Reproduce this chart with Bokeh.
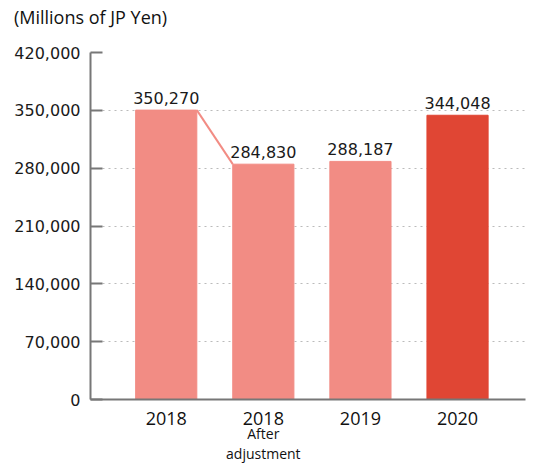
from bokeh.plotting import figure
from bokeh.models import ColumnDataSource, FixedTicker, LinearAxis, NumeralTickFormatter
from bokeh.embed import file_html
from bokeh.resources import INLINE

# data
labels = ["2018", "2018", "2019", "2020"]
sublabels = ["", "After\nadjustment", "", ""]
values = [350270, 284830, 288187, 344048]
value_text = ["350,270", "284,830", "288,187", "344,048"]
colors = ["#F28C84", "#F28C84", "#F28C84", "#E04634"]
y_ticks = [0, 70000, 140000, 210000, 280000, 350000, 420000]
unit_caption = "(Millions of JP Yen)"

xs = list(range(len(values)))
bar_w = 0.63
x_lo, x_hi = -0.78, 3.70

source = ColumnDataSource(data=dict(x=xs, top=values, color=colors, txt=value_text))

p = figure(width=538, height=466, x_range=(x_lo, x_hi), y_range=(0, 420000),
           output_backend="svg", toolbar_location=None,
           min_border_left=90, min_border_right=13, min_border_top=52, min_border_bottom=66)
p.outline_line_color = None
p.background_fill_color = "white"

p.vbar(x="x", top="top", width=bar_w, color="color", source=source)

# connector from 2018 to 2018 after adjustment
p.segment(x0=[xs[0] + bar_w / 2], y0=[values[0]], x1=[xs[1] - bar_w / 2], y1=[values[1]],
          line_color="#F28C84", line_width=2)

p.text(x="x", y="top", text="txt", source=source, text_align="center", text_baseline="bottom",
       y_offset=-6, text_font={"value": "DejaVu Sans"}, text_font_size="16px", text_color="#1a1a1a")

# y axis
p.yaxis.ticker = FixedTicker(ticks=y_ticks)
p.yaxis.formatter = NumeralTickFormatter(format="0,0")
p.yaxis.major_label_text_font = "DejaVu Sans"
p.yaxis.major_label_text_font_size = "16px"
p.yaxis.major_label_text_color = "#1a1a1a"
p.yaxis.axis_line_color = "#777777"
p.yaxis.axis_line_width = 2
p.yaxis.major_tick_line_color = "#777777"
p.yaxis.major_tick_line_width = 2
p.yaxis.major_tick_in = 12
p.yaxis.major_tick_out = 0
p.yaxis.minor_tick_line_color = None
p.yaxis.major_label_standoff = 10

# x axis
p.xaxis.ticker = FixedTicker(ticks=xs)
p.xaxis.major_label_overrides = {i: l for i, l in zip(xs, labels)}
p.xaxis.major_label_text_font = "Open Sans"
p.xaxis.major_label_text_font_size = "18px"
p.xaxis.major_label_text_color = "#111111"
p.xaxis.axis_line_color = "#777777"
p.xaxis.axis_line_width = 2
p.xaxis.major_tick_line_color = None
p.xaxis.minor_tick_line_color = None
p.xaxis.major_label_standoff = 6

# second row of x labels ("After adjustment")
sub_axis = LinearAxis(ticker=FixedTicker(ticks=[i for i in xs if sublabels[i]]),
                      major_label_overrides={i: s for i, s in zip(xs, sublabels) if s},
                      axis_line_color=None, major_tick_line_color=None, minor_tick_line_color=None,
                      major_label_text_font="Open Sans", major_label_text_font_size="14px",
                      major_label_text_color="#111111", major_label_text_line_height=1.1,
                      major_label_standoff=-10)
p.add_layout(sub_axis, "below")

# unit caption sits centred over the y axis, so use a bare axis above
# (added after the p.xaxis styling so that it is left alone)
cap_axis = LinearAxis(ticker=FixedTicker(ticks=[x_lo]), major_label_overrides={x_lo: unit_caption},
                      axis_line_color=None, major_tick_line_color=None, minor_tick_line_color=None,
                      major_label_text_font="Open Sans", major_label_text_font_size="18px",
                      major_label_text_color="#111111", major_label_standoff=18)
p.add_layout(cap_axis, "above")

# grid
p.xgrid.grid_line_color = None
p.ygrid.ticker = FixedTicker(ticks=y_ticks[1:-1])
p.ygrid.grid_line_color = "#bbbbbb"
p.ygrid.grid_line_dash = "2 4"
p.ygrid.grid_line_width = 1

open("out.html", "w").write(file_html(p, INLINE))
